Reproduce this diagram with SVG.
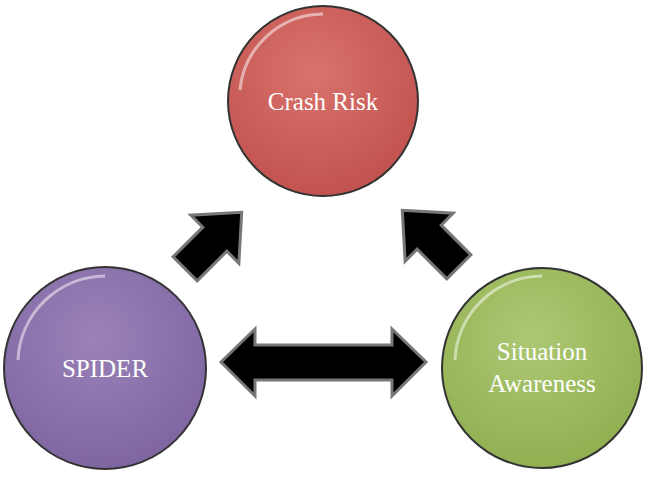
<svg xmlns="http://www.w3.org/2000/svg" width="646" height="478" viewBox="0 0 646 478">
<defs>
<radialGradient id="gr" cx="0.45" cy="0.35" r="0.7"><stop offset="0" stop-color="#d9736c"/><stop offset="1" stop-color="#c0504d"/></radialGradient>
<radialGradient id="gp" cx="0.45" cy="0.35" r="0.7"><stop offset="0" stop-color="#9a82b8"/><stop offset="1" stop-color="#7d64a0"/></radialGradient>
<radialGradient id="gg" cx="0.45" cy="0.35" r="0.7"><stop offset="0" stop-color="#adc873"/><stop offset="1" stop-color="#8fae4f"/></radialGradient>
<style>
.c{stroke:#333;stroke-width:2}
.hl{fill:none;stroke:#fff;stroke-opacity:0.5;stroke-width:3}
.t{font-family:"Liberation Serif",serif;font-size:25px;fill:#fff;text-anchor:middle}
.a{fill:#000;stroke:#777;stroke-width:3;stroke-linejoin:miter}
</style>
</defs>
<g id="crash-risk"><circle class="c" cx="323" cy="101" r="95" fill="url(#gr)"/><path class="hl" d="M240,90 A84,84 0 0 1 323,14"/><text class="t" x="323" y="110">Crash Risk</text></g>
<g id="spider"><circle class="c" cx="105" cy="368" r="101" fill="url(#gp)"/><path class="hl" d="M18,360 A88,88 0 0 1 105,276"/><text class="t" x="105" y="377">SPIDER</text></g>
<g id="situation-awareness"><circle class="c" cx="542" cy="368" r="100" fill="url(#gg)"/><path class="hl" d="M455,360 A88,88 0 0 1 542,276"/><text class="t" x="542" y="360">Situation</text><text class="t" x="542" y="392">Awareness</text></g>
<g id="connectors">
<path class="a" transform="translate(212,242) rotate(-45)" d="M-38,-17 H4 V-34 L42,0 L4,34 V17 H-38 Z"/>
<path class="a" transform="translate(432,240) rotate(-135)" d="M-38,-17 H4 V-34 L42,0 L4,34 V17 H-38 Z"/>
<path class="a" d="M221,362 L255,329 V345 H392 V329 L426,362 L392,396 V380 H255 V396 Z"/>
</g>
</svg>
